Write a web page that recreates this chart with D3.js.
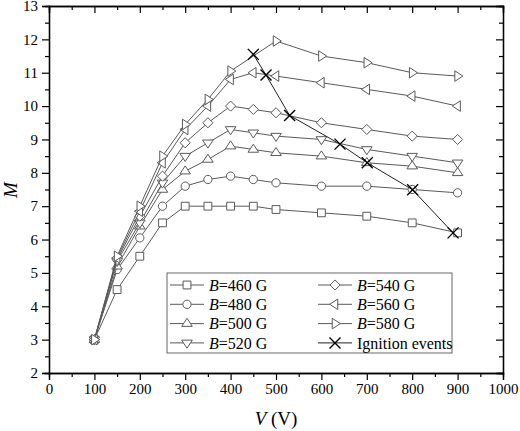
<!DOCTYPE html>
<html>
<head>
<meta charset="utf-8">
<script src="https://cdn.jsdelivr.net/npm/d3@7"></script>
<style>
    body { margin: 0; background: #fff; }
</style>
</head>
<body>
<div id="chart"></div>
<script>
// voltage (V) at which each M value was measured
const voltages = [100, 150, 200, 250, 300, 350, 400, 450, 500, 600, 700, 800, 900];

const m460 = [3, 4.5, 5.5, 6.5, 7.0, 7.0, 7.0, 7.0, 6.9, 6.8, 6.7, 6.5, 6.2];
const m480 = [3, 5.1, 6.05, 7.0, 7.6, 7.8, 7.9, 7.8, 7.7, 7.6, 7.6, 7.5, 7.4];
const m500 = [3, 5.2, 6.4, 7.5, 8.05, 8.4, 8.8, 8.7, 8.6, 8.5, 8.3, 8.2, 8.0];
const m520 = [3, 5.35, 6.5, 7.7, 8.5, 8.9, 9.3, 9.2, 9.1, 9.0, 8.7, 8.5, 8.3];
const m540 = [3, 5.4, 6.7, 7.9, 8.9, 9.5, 10.0, 9.9, 9.8, 9.5, 9.3, 9.1, 9.0];
const m560 = [3, 5.45, 6.85, 8.3, 9.3, 10.0, 10.8, 11.0, 10.9, 10.7, 10.5, 10.3, 10.0];
const m580 = [3, 5.5, 7.0, 8.5, 9.45, 10.2, 11.05, null, 11.95, 11.5, 11.3, 11.0, 10.9];

const seriesLabels = ["460", "480", "500", "520", "540", "560", "580"];
const seriesMarkers = ["square", "circle", "up", "down", "diamond", "left", "right"];

// ignition events
const ignitionV = [450, 478, 530, 641, 701, 801, 890];
const ignitionM = [11.55, 10.93, 9.72, 8.86, 8.3, 7.49, 6.2];

const xTicks = [0, 100, 200, 300, 400, 500, 600, 700, 800, 900, 1000];
const yTicks = [2, 3, 4, 5, 6, 7, 8, 9, 10, 11, 12, 13];

const serif = "Liberation Serif";
const margin = {top: 6, right: 17, bottom: 58, left: 49};
const width = 520 - margin.left - margin.right;
const height = 431 - margin.top - margin.bottom;
const grey = "#5a5a5a";

const svg = d3.select("#chart").append("svg")
    .attr("width", 520)
    .attr("height", 431);
const g = svg.append("g")
    .attr("transform", "translate(" + margin.left + "," + margin.top + ")");

let x = d3.scaleLinear().domain([0, 1000]).range([0, width]);
let y = d3.scaleLinear().domain([2, 13]).range([height, 0]);

// hollow marker shapes, r = half size
function markerPath(type, r) {
    let p = d3.path();
    if (type === "square") {
        let s = r * 0.85;
        p.rect(-s, -s, 2 * s, 2 * s);
    } else if (type === "circle") {
        p.arc(0, 0, r * 0.9, 0, 2 * Math.PI);
    } else if (type === "diamond") {
        p.moveTo(0, -r * 1.1); p.lineTo(r * 1.1, 0); p.lineTo(0, r * 1.1); p.lineTo(-r * 1.1, 0);
    } else {
        let a = r * 1.15, b = r * 0.6;
        let pts = {
            up: [[0, -a], [a, b], [-a, b]],
            down: [[0, a], [a, -b], [-a, -b]],
            left: [[-a, 0], [b, -a], [b, a]],
            right: [[a, 0], [-b, -a], [-b, a]]
        }[type];
        p.moveTo(pts[0][0], pts[0][1]);
        p.lineTo(pts[1][0], pts[1][1]);
        p.lineTo(pts[2][0], pts[2][1]);
    }
    p.closePath();
    return p.toString();
}

function crossPath(r) {
    return "M" + -r + "," + -r + "L" + r + "," + r + "M" + r + "," + -r + "L" + -r + "," + r;
}

// axes: outward ticks on left/bottom, inward on top/right
const xMinor = d3.range(50, 1000, 100);
const yMinor = d3.range(2.5, 13, 1);

g.append("g").attr("transform", "translate(0," + height + ")")
    .call(d3.axisBottom(x).tickValues(xMinor).tickSize(4).tickFormat(""));
g.append("g").attr("transform", "translate(0," + height + ")")
    .call(d3.axisBottom(x).tickValues(xTicks).tickSize(7).tickPadding(3).tickFormat(d3.format("d")));
g.append("g")
    .call(d3.axisTop(x).tickValues(xMinor).tickSize(-4).tickFormat(""));
g.append("g")
    .call(d3.axisTop(x).tickValues(xTicks).tickSize(-7).tickFormat(""));
g.append("g")
    .call(d3.axisLeft(y).tickValues(yMinor).tickSize(4).tickFormat(""));
g.append("g")
    .call(d3.axisLeft(y).tickValues(yTicks).tickSize(7).tickPadding(4).tickFormat(d3.format("d")));
g.append("g").attr("transform", "translate(" + width + ",0)")
    .call(d3.axisRight(y).tickValues(yMinor).tickSize(-4).tickFormat(""));
g.append("g").attr("transform", "translate(" + width + ",0)")
    .call(d3.axisRight(y).tickValues(yTicks).tickSize(-7).tickFormat(""));

g.selectAll(".domain").attr("stroke", "#000").attr("stroke-width", 1.3);
g.selectAll(".tick line").attr("stroke", "#000").attr("stroke-width", 1.2);
g.selectAll("g").attr("font-family", serif);
g.selectAll(".tick text")
    .attr("font-family", serif)
    .attr("font-size", 15)
    .attr("fill", "#000");

// curves
const allSeries = [m460, m480, m500, m520, m540, m560, m580].map((vals, i) => {
    return {
        label: seriesLabels[i],
        marker: seriesMarkers[i],
        points: voltages.map((v, j) => ({v: v, m: vals[j]})).filter(d => d.m !== null)
    };
});

const line = d3.line().x(d => x(d.v)).y(d => y(d.m));

let curves = g.selectAll(".series")
    .data(allSeries)
    .enter().append("g")
    .attr("class", "series");
curves.append("path")
    .attr("d", d => line(d.points))
    .attr("fill", "none")
    .attr("stroke", grey)
    .attr("stroke-width", 1);
curves.selectAll(".mk")
    .data(d => d.points.map(p => ({v: p.v, m: p.m, marker: d.marker})))
    .enter().append("path")
    .attr("class", "mk")
    .attr("transform", d => "translate(" + x(d.v) + "," + y(d.m) + ")")
    .attr("d", d => markerPath(d.marker, 4.6))
    .attr("fill", "#fff")
    .attr("stroke", grey)
    .attr("stroke-width", 1);

// ignition events
const ignition = ignitionV.map((v, i) => ({v: v, m: ignitionM[i]}));
g.append("path")
    .attr("d", line(ignition))
    .attr("fill", "none")
    .attr("stroke", "#222")
    .attr("stroke-width", 1);
g.selectAll(".ign")
    .data(ignition)
    .enter().append("path")
    .attr("class", "ign")
    .attr("transform", d => "translate(" + x(d.v) + "," + y(d.m) + ")")
    .attr("d", crossPath(5.5))
    .attr("stroke", "#000")
    .attr("stroke-width", 1.4);

// legend
const legendItems = seriesLabels.map((lab, i) => ({marker: seriesMarkers[i], b: lab}))
    .concat([{marker: "cross", b: null}]);
let legend = svg.append("g").attr("transform", "translate(167,273)");
legend.append("rect")
    .attr("width", 285)
    .attr("height", 80)
    .attr("fill", "#fff")
    .attr("stroke", "#666")
    .attr("stroke-width", 1);

let items = legend.selectAll(".item")
    .data(legendItems)
    .enter().append("g")
    .attr("class", "item")
    .attr("transform", (d, i) => {
        let col = Math.floor(i / 4), row = i % 4;
        return "translate(" + (col === 0 ? 3 : 151) + "," + (12 + row * 19.3) + ")";
    });
items.append("line")
    .attr("x1", 0).attr("x2", 34)
    .attr("stroke", d => d.marker === "cross" ? "#222" : grey)
    .attr("stroke-width", 1);
items.append("path")
    .attr("transform", "translate(17,0)")
    .attr("d", d => d.marker === "cross" ? crossPath(5.5) : markerPath(d.marker, 4.6))
    .attr("fill", "#fff")
    .attr("stroke", d => d.marker === "cross" ? "#000" : grey)
    .attr("stroke-width", d => d.marker === "cross" ? 1.4 : 1);

let labels = items.append("text")
    .attr("x", 39)
    .attr("dy", "0.35em")
    .attr("font-family", serif)
    .attr("font-size", 16)
    .attr("fill", "#000");
labels.filter(d => d.b !== null).each(function(d) {
    let t = d3.select(this);
    t.append("tspan").attr("font-style", "italic").text("B");
    t.append("tspan").text("=" + d.b + " G");
});
labels.filter(d => d.b === null).text("Ignition events");

// axis titles
let xt = svg.append("text")
    .attr("x", margin.left + width / 2)
    .attr("y", 425)
    .attr("text-anchor", "middle")
    .attr("font-family", serif)
    .attr("font-size", 19);
xt.append("tspan").attr("font-style", "italic").text("V");
xt.append("tspan").text(" (V)");

svg.append("text")
    .attr("transform", "translate(17,190) rotate(-90)")
    .attr("text-anchor", "middle")
    .attr("font-family", serif)
    .attr("font-size", 19)
    .attr("font-style", "italic")
    .text("M");
</script>
</body>
</html>
